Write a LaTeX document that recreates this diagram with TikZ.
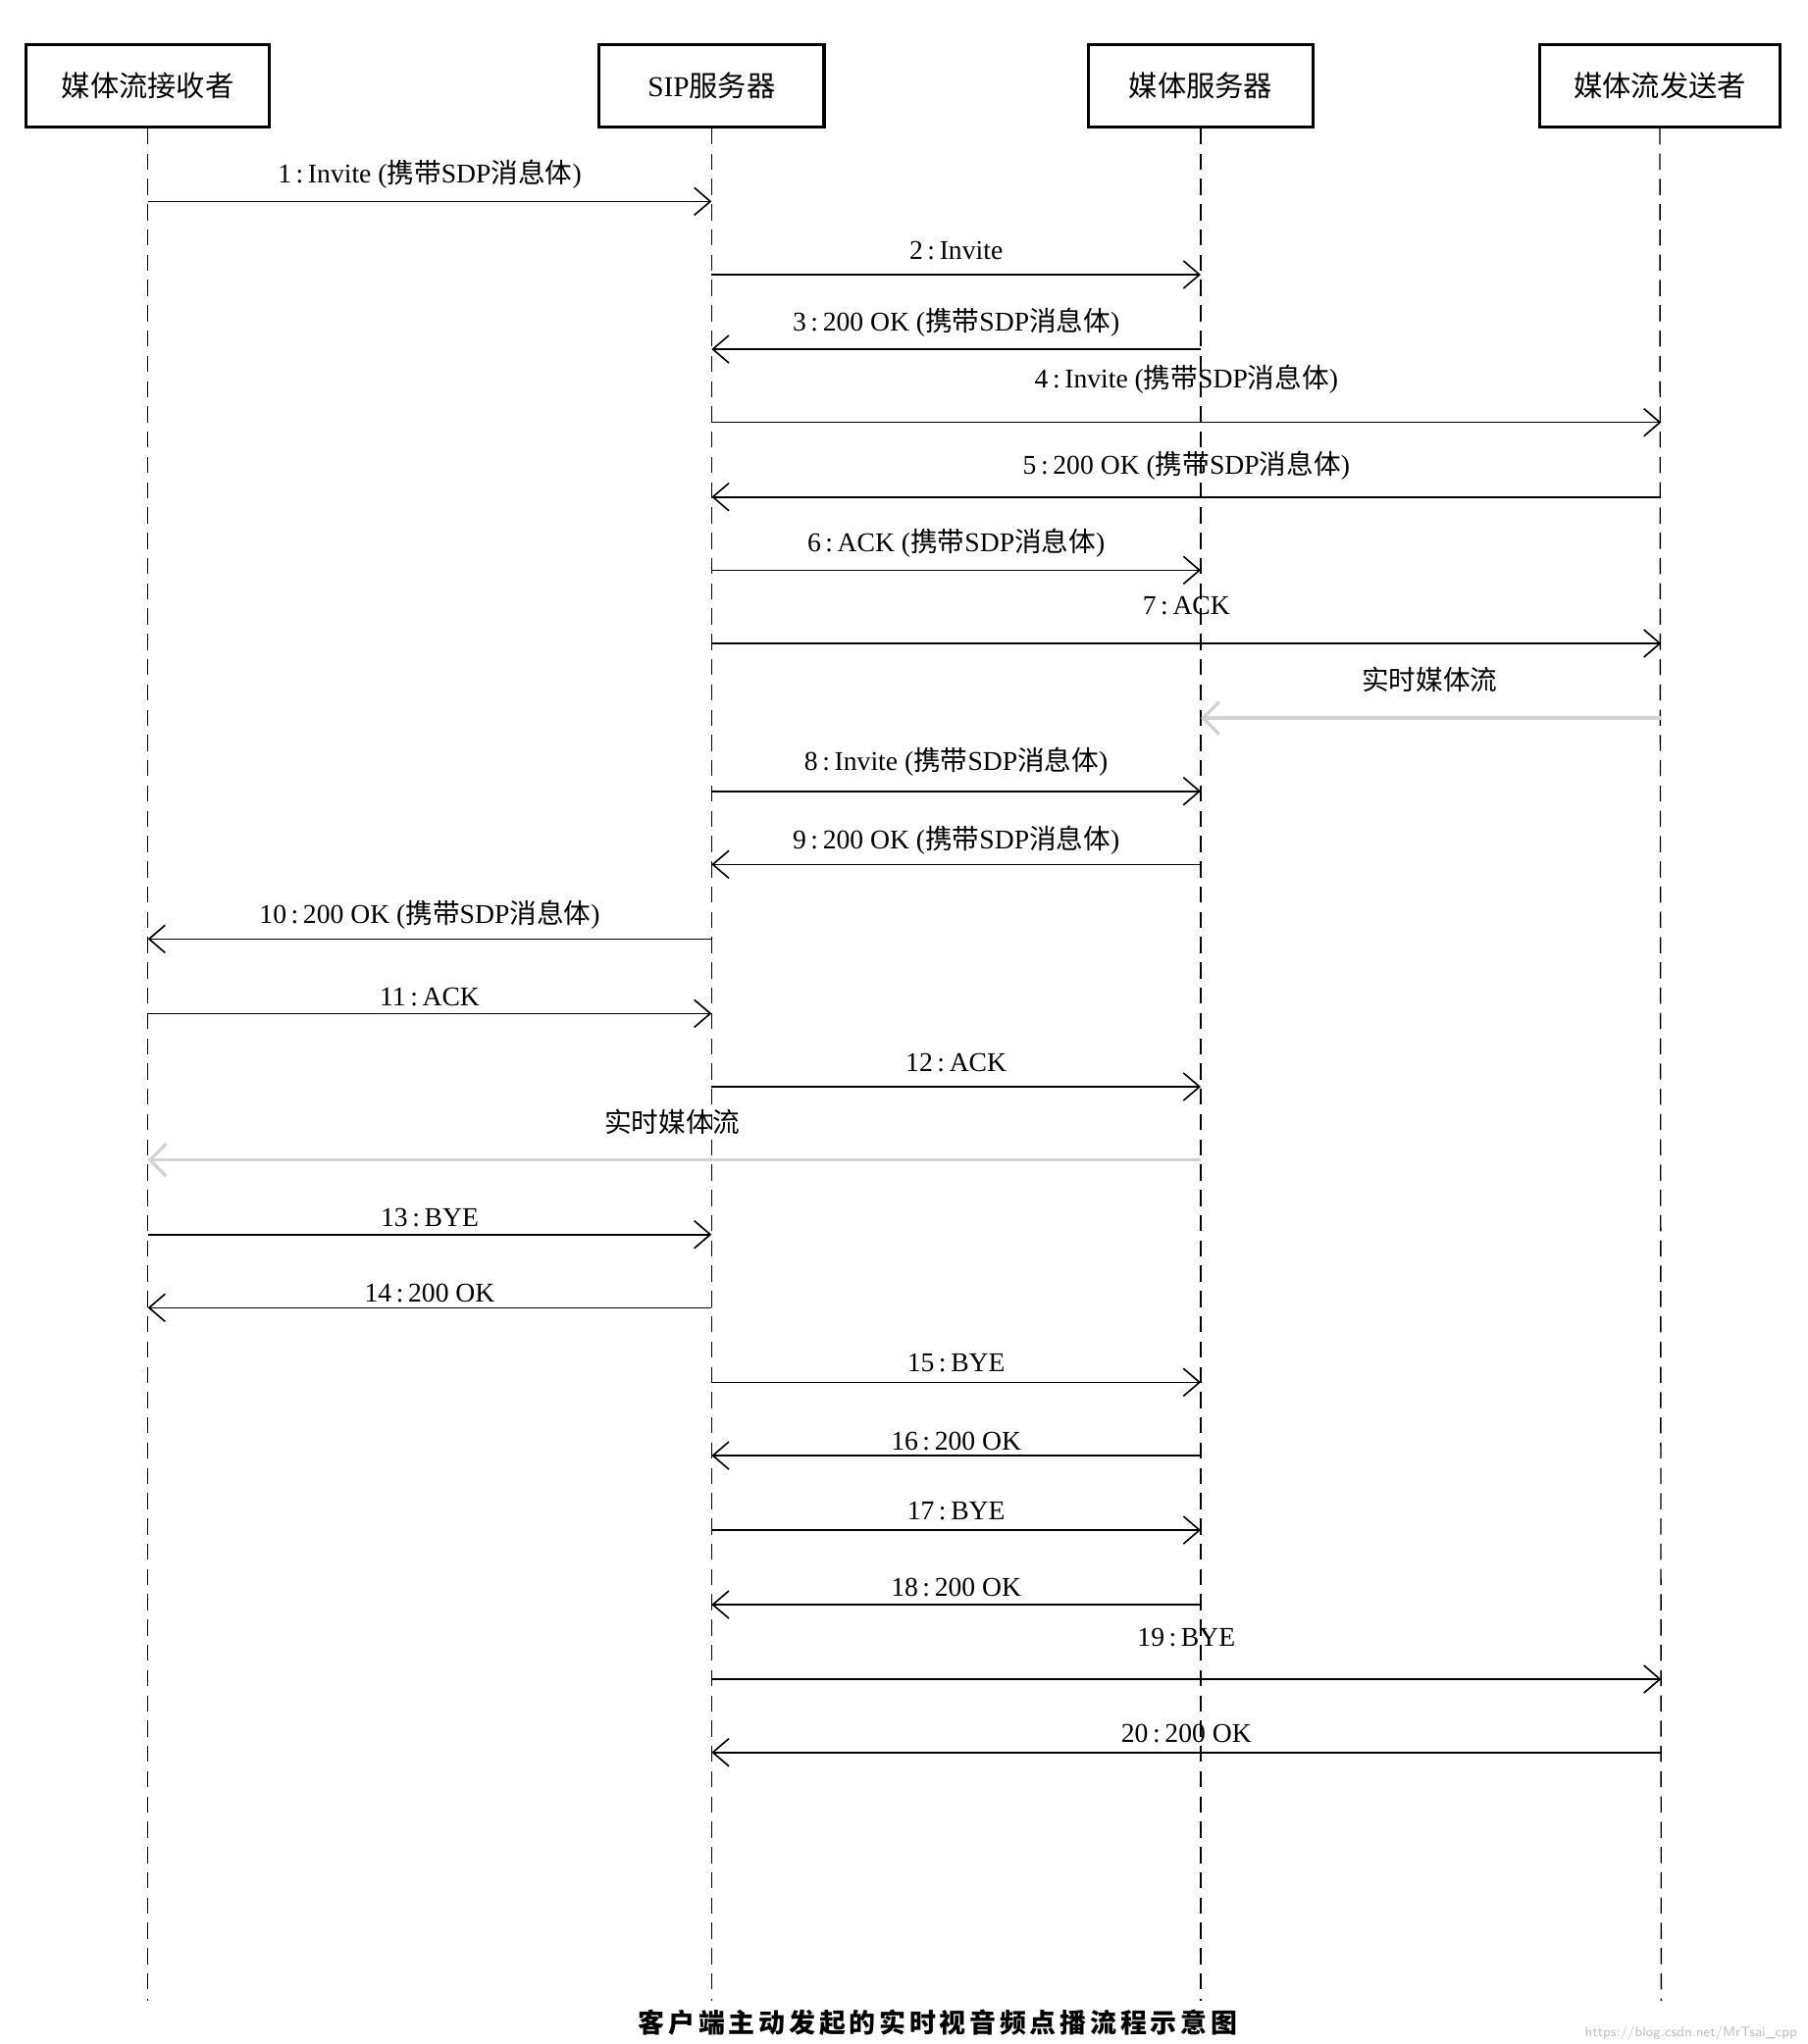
\documentclass[tikz,border=0pt]{standalone}
\usepackage{fontspec}
\setmainfont{Liberation Serif}
\newfontfamily\cjk{Noto Sans CJK SC}
\newfontfamily\cjkcap{Noto Sans CJK SC}[LetterSpace=14]
\usetikzlibrary{arrows.meta}
\newcommand\C[1]{{\cjk #1}}
\newcommand\cl{\,:\,}
\begin{document}
\begin{tikzpicture}[x=0.02cm,y=-0.02cm,
  box/.style={draw,line width=1.3pt,minimum width=3.7cm,minimum height=1.26cm,font=\fontsize{12.5}{15}\selectfont},
  life/.style={dash pattern=on 7pt off 4pt,line width=0.6pt},
  msg/.style={-{Straight Barb[length=7pt,width=12pt]},line width=0.7pt},
  stream/.style={-{Straight Barb[length=7pt,width=14pt]},line width=1.4pt,gray!35},
  lab/.style={font=\fontsize{11.8}{14}\selectfont,inner sep=2pt}]
\useasboundingbox (0,0) rectangle (1382,1563);
\node[box,minimum width=3.72cm] (A) at (113,65.5) {\C{媒体流接收者}};
\node[box,minimum width=3.44cm] (B) at (544,65.5) {SIP\C{服务器}};
\node[box,minimum width=3.44cm] (Cc) at (918,65.5) {\C{媒体服务器}};
\node[box,minimum width=3.68cm] (D) at (1269,65.5) {\C{媒体流发送者}};
\coordinate (Ae) at (113,1530);
\coordinate (Be) at (544,1530);
\coordinate (Ce) at (918,1530);
\coordinate (De) at (1270,1530);
\draw[life] (A.south) -- (Ae);
\draw[life] (B.south) -- (Be);
\draw[life] (Cc.south) -- (Ce);
\draw[life] (D.south) -- (De);
\newcommand\msgline[7]{%
  \coordinate (s#1) at (#2,#4);
  \coordinate (e#1) at (#3,#4);
  \draw[#6] (s#1) -- node[lab,above,yshift=#7]{#5} (e#1);}
\msgline{1}{113}{544}{154}{1\cl Invite (\C{携带}SDP\C{消息体})}{msg}{3pt}
\msgline{2}{544}{918}{210}{2\cl Invite}{msg}{4pt}
\msgline{3}{918}{544}{267}{3\cl 200 OK (\C{携带}SDP\C{消息体})}{msg}{3pt}
\msgline{4}{544}{1270}{323}{4\cl Invite (\C{携带}SDP\C{消息体})}{msg}{10pt}
\msgline{5}{1270}{544}{380}{5\cl 200 OK (\C{携带}SDP\C{消息体})}{msg}{5pt}
\msgline{6}{544}{918}{436}{6\cl ACK (\C{携带}SDP\C{消息体})}{msg}{3pt}
\msgline{7}{544}{1270}{492}{7\cl ACK}{msg}{10pt}
\coordinate (sx1) at (1270,549);
\coordinate (ex1) at (918,549);
\draw[stream] (sx1) -- (ex1);
\node[lab,text=black] (lx1) at (1093,520) {\C{实时媒体流}};
\msgline{8}{544}{918}{605}{8\cl Invite (\C{携带}SDP\C{消息体})}{msg}{4pt}
\msgline{9}{918}{544}{661}{9\cl 200 OK (\C{携带}SDP\C{消息体})}{msg}{2pt}
\msgline{10}{544}{113}{718}{10\cl 200 OK (\C{携带}SDP\C{消息体})}{msg}{2pt}
\msgline{11}{113}{544}{775}{11\cl ACK}{msg}{1pt}
\msgline{12}{544}{918}{831}{12\cl ACK}{msg}{4pt}
\coordinate (sx2) at (918,887);
\coordinate (ex2) at (113,887);
\draw[stream] (sx2) -- (ex2);
\node[lab] (lx2) at (514,858) {\C{实时媒体流}};
\msgline{13}{113}{544}{944}{13\cl BYE}{msg}{1pt}
\msgline{14}{544}{113}{1000}{14\cl 200 OK}{msg}{0pt}
\msgline{15}{544}{918}{1057}{15\cl BYE}{msg}{2pt}
\msgline{16}{918}{544}{1113}{16\cl 200 OK}{msg}{0pt}
\msgline{17}{544}{918}{1170}{17\cl BYE}{msg}{2pt}
\msgline{18}{918}{544}{1227}{18\cl 200 OK}{msg}{1pt}
\msgline{19}{544}{1270}{1284}{19\cl BYE}{msg}{12pt}
\msgline{20}{1270}{544}{1340}{20\cl 200 OK}{msg}{2pt}
\node[font=\fontsize{11.5}{14}\selectfont\cjkcap\bfseries] (cap) at (717,1547) {客户端主动发起的实时视音频点播流程示意图};
\node[font=\fontsize{6}{7}\selectfont\sffamily,text=gray!50,anchor=east] (wm) at (1380,1555) {https://blog.csdn.net/MrTsai\_cpp};
\end{tikzpicture}
\end{document}
